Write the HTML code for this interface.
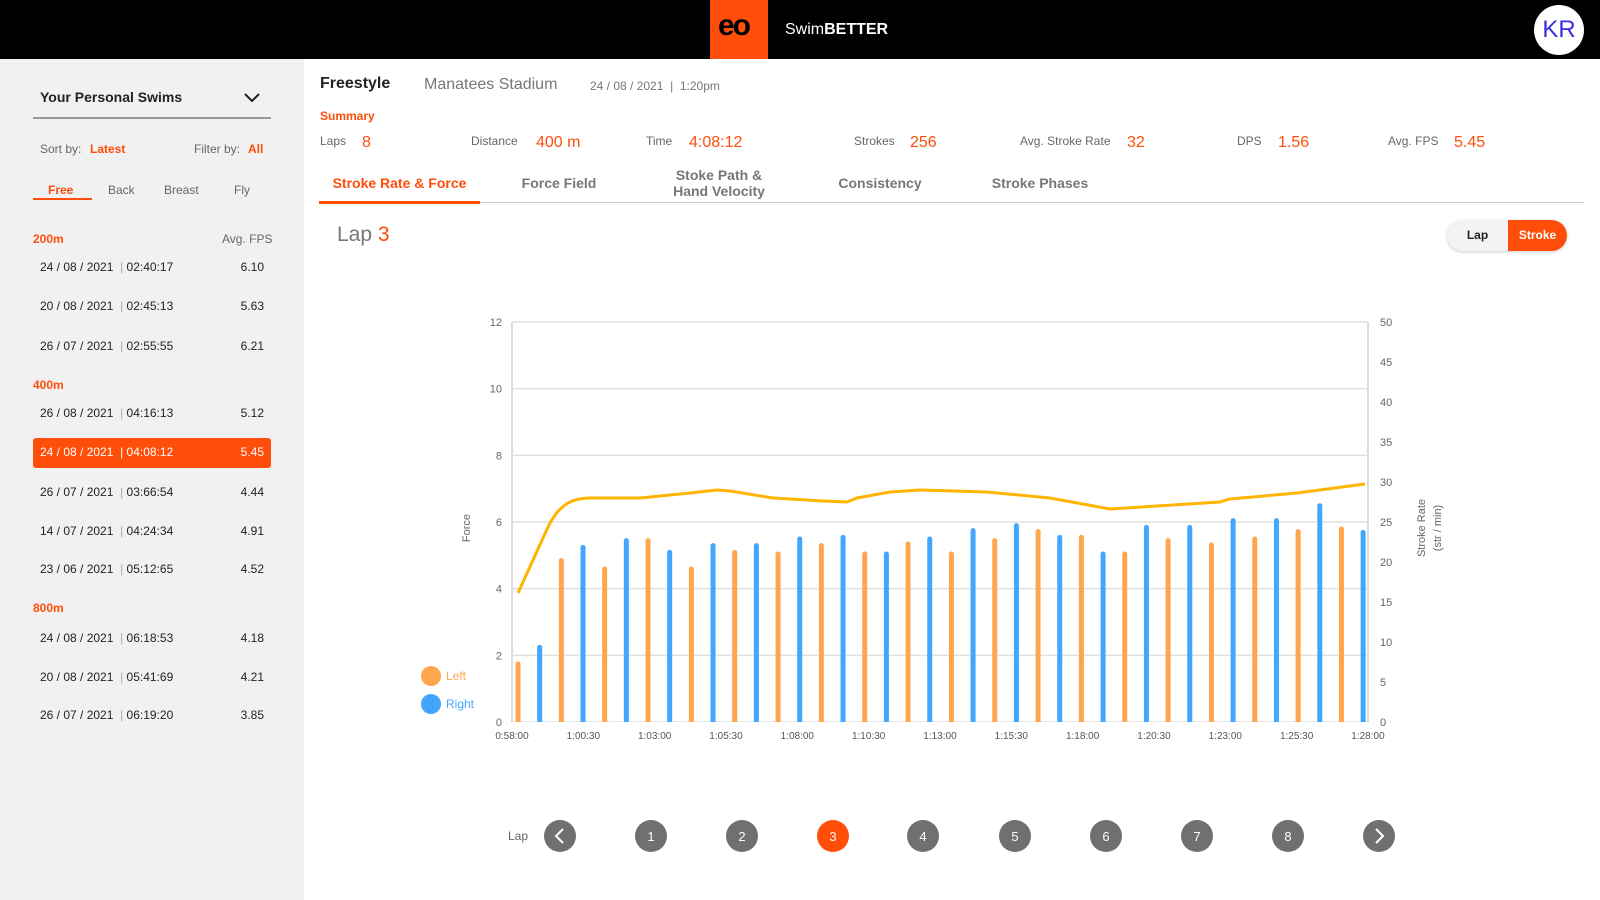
<!DOCTYPE html>
<html><head><meta charset="utf-8"><style>
*{margin:0;padding:0;box-sizing:border-box}
body{width:1600px;height:900px;position:relative;overflow:hidden;background:#fff;font-family:"Liberation Sans",sans-serif;color:#222}
.a{position:absolute;white-space:nowrap}
.hdr{left:0;top:0;width:1600px;height:59px;background:#000}
.side{left:0;top:59px;width:304px;height:841px;background:#f1f1f1}
.o{color:#ff4d0a}
.g{color:#777}
.row{font-size:12px;color:#222}
.lbl{font-size:12px;color:#666}
.val{font-size:16px;color:#ff4d0a}
.tab{font-size:14px;font-weight:bold;color:#777;text-align:center}
</style></head><body>
<div class="a hdr"></div>
<div class="a" style="left:710px;top:0;width:58px;height:59px;background:#ff4d0a"></div>
<div class="a" style="left:718px;top:9px;font-size:30px;font-weight:bold;color:#000;letter-spacing:-2px">eo</div>
<div class="a" style="left:785px;top:21px;font-size:16px;color:#fff">Swim<b>BETTER</b></div>
<div class="a" style="left:1534px;top:5px;width:50px;height:50px;border-radius:50%;background:#fff;color:#3d2de0;font-size:24px;text-align:center;line-height:50px">KR</div>

<div class="a side"></div>
<div class="a" style="left:40px;top:89px;font-size:14px;font-weight:bold">Your Personal Swims</div>
<svg class="a" style="left:243px;top:92px" width="18" height="12"><path d="M2 2 L9 9 L16 2" stroke="#222" stroke-width="2" fill="none"/></svg>
<div class="a" style="left:33px;top:117px;width:238px;height:2px;background:#999"></div>
<div class="a lbl" style="left:40px;top:142px">Sort by:</div>
<div class="a o" style="left:90px;top:142px;font-size:12px;font-weight:bold">Latest</div>
<div class="a lbl" style="left:194px;top:142px">Filter by:</div>
<div class="a o" style="left:248px;top:142px;font-size:12px;font-weight:bold">All</div>
<div class="a o" style="left:48px;top:183px;font-size:12px;font-weight:bold">Free</div>
<div class="a lbl" style="left:108px;top:183px">Back</div>
<div class="a lbl" style="left:164px;top:183px">Breast</div>
<div class="a lbl" style="left:234px;top:183px">Fly</div>
<div class="a" style="left:33px;top:198px;width:59px;height:2px;background:#ff4d0a"></div>

<div class="a o" style="left:33px;top:232px;font-size:12px;font-weight:bold">200m</div>
<div class="a lbl" style="left:222px;top:232px">Avg. FPS</div>
<div class="a" style="left:33px;top:438px;width:238px;height:30px;background:#ff4d0a;border-radius:3px"></div>
<div id="rows"></div>
<div class="a o" style="left:33px;top:378px;font-size:12px;font-weight:bold">400m</div>
<div class="a o" style="left:33px;top:601px;font-size:12px;font-weight:bold">800m</div>

<div class="a" style="left:320px;top:75px;font-size:16px;font-weight:bold">Freestyle</div>
<div class="a g" style="left:424px;top:76px;font-size:16px">Manatees Stadium</div>
<div class="a g" style="left:590px;top:79px;font-size:12px">24 / 08 / 2021 &nbsp;|&nbsp; 1:20pm</div>
<div class="a o" style="left:320px;top:109px;font-size:12px;font-weight:bold">Summary</div>
<div class="a lbl" style="left:320px;top:134px">Laps</div><div class="a val" style="left:362px;top:134px">8</div>
<div class="a lbl" style="left:471px;top:134px">Distance</div><div class="a val" style="left:536px;top:134px">400 m</div>
<div class="a lbl" style="left:646px;top:134px">Time</div><div class="a val" style="left:689px;top:134px">4:08:12</div>
<div class="a lbl" style="left:854px;top:134px">Strokes</div><div class="a val" style="left:910px;top:134px">256</div>
<div class="a lbl" style="left:1020px;top:134px">Avg. Stroke Rate</div><div class="a val" style="left:1127px;top:134px">32</div>
<div class="a lbl" style="left:1237px;top:134px">DPS</div><div class="a val" style="left:1278px;top:134px">1.56</div>
<div class="a lbl" style="left:1388px;top:134px">Avg. FPS</div><div class="a val" style="left:1454px;top:134px">5.45</div>

<div class="a" style="left:319px;top:202px;width:1265px;height:1px;background:#ccc"></div>
<div class="a" style="left:319px;top:201px;width:161px;height:3px;background:#ff4d0a"></div>
<div class="a tab o" style="left:319px;top:175px;width:161px;color:#ff4d0a">Stroke Rate &amp; Force</div>
<div class="a tab" style="left:489px;top:175px;width:140px">Force Field</div>
<div class="a tab" style="left:649px;top:167px;width:140px;line-height:16px">Stoke Path &amp;<br>Hand Velocity</div>
<div class="a tab" style="left:810px;top:175px;width:140px">Consistency</div>
<div class="a tab" style="left:970px;top:175px;width:140px">Stroke Phases</div>

<div class="a g" style="left:337px;top:223px;font-size:21px">Lap <span class="o">3</span></div>
<div class="a" style="left:1447px;top:220px;width:120px;height:31px;border-radius:16px;background:#f3f3f3;box-shadow:0 1px 3px rgba(0,0,0,.2);overflow:hidden">
<div class="a" style="left:0;top:0;width:61px;height:31px;text-align:center;line-height:31px;font-size:12px;font-weight:bold">Lap</div>
<div class="a" style="left:61px;top:0;width:59px;height:31px;background:#ff4d0a;color:#fff;text-align:center;line-height:31px;font-size:12px;font-weight:bold">Stroke</div></div>

<svg class="a" style="left:0;top:0" width="1600" height="900" id="ch" font-family="Liberation Sans, sans-serif"></svg>
<script>
var s='';
var rows=[[267,'24 / 08 / 2021','02:40:17','6.10'],[306,'20 / 08 / 2021','02:45:13','5.63'],[346,'26 / 07 / 2021','02:55:55','6.21'],[413,'26 / 08 / 2021','04:16:13','5.12'],[452,'24 / 08 / 2021','04:08:12','5.45',1],[492,'26 / 07 / 2021','03:66:54','4.44'],[531,'14 / 07 / 2021','04:24:34','4.91'],[569,'23 / 06 / 2021','05:12:65','4.52'],[638,'24 / 08 / 2021','06:18:53','4.18'],[677,'20 / 08 / 2021','05:41:69','4.21'],[715,'26 / 07 / 2021','06:19:20','3.85']];
var h='';
rows.forEach(function(r){var c=r[4]?'color:#fff;':'';
h+='<div class="a row" style="'+c+'left:40px;top:'+(r[0]-7)+'px">'+r[1]+' <span style="color:'+(r[4]?'#fff':'#aaa')+'">&nbsp;|&nbsp;</span>'+r[2]+'</div><div class="a row" style="'+c+'right:'+(1600-264)+'px;top:'+(r[0]-7)+'px">'+r[3]+'</div>';});
document.getElementById('rows').innerHTML=h;
var X0=512,X1=1368,Y0=722,U=33.33;
for(var i=0;i<=6;i++){var y=Y0-i*2*U;s+='<line x1="'+X0+'" x2="'+X1+'" y1="'+y+'" y2="'+y+'" stroke="#e0e0e0" stroke-width="1.5"/>';s+='<text x="502" y="'+(y+4)+'" font-size="11" fill="#666" text-anchor="end">'+(i*2)+'</text>';}
for(var i=0;i<=10;i++){var y=Y0-i*40;s+='<text x="1380" y="'+(y+4)+'" font-size="11" fill="#666">'+(i*5)+'</text>';}
s+='<line x1="'+X0+'" x2="'+X0+'" y1="322" y2="'+Y0+'" stroke="#ddd" stroke-width="2"/><line x1="'+X1+'" x2="'+X1+'" y1="322" y2="'+Y0+'" stroke="#ddd" stroke-width="2"/>';
var xl=['0:58:00','1:00:30','1:03:00','1:05:30','1:08:00','1:10:30','1:13:00','1:15:30','1:18:00','1:20:30','1:23:00','1:25:30','1:28:00'];
xl.forEach(function(t,i){s+='<text x="'+(X0+i*71.33)+'" y="739" font-size="10" fill="#555" text-anchor="middle">'+t+'</text>';});
var v=[1.8,2.3,4.9,5.3,4.65,5.5,5.5,5.15,4.65,5.35,5.15,5.35,5.1,5.55,5.35,5.6,5.1,5.1,5.4,5.55,5.1,5.8,5.5,5.95,5.77,5.6,5.6,5.1,5.1,5.9,5.5,5.9,5.37,6.1,5.55,6.1,5.77,6.55,5.85,5.75];
v.forEach(function(f,i){var x=518+i*21.67;var c=(i%2==0&&i<19)||(i>=19&&i%2==0)?'#ffa54d':'#42a5ff';
if(i>=19)c=(i%2==1)?'#42a5ff':'#ffa54d';
if(i==19)c='#42a5ff';
s+='<line x1="'+x+'" x2="'+x+'" y1="'+(Y0-f*U+2)+'" y2="'+Y0+'" stroke="'+c+'" stroke-width="5" stroke-linecap="round"/>';});
s+='<rect x="505" y="'+(Y0)+'" width="870" height="3" fill="#fff"/>';
s+='<path d="M518 593 L548 527 C560 502 575 498 590 498 L640 498 L690 493 L717 490 L730 491 L773 498 L823 501 L847 502 L857 498 L890 492 L920 490 L987 492 L1050 498 L1110 509 L1220 502 L1230 499 L1297 493 L1365 484" fill="none" stroke="#ffb400" stroke-width="3"/>';
s+='<text transform="translate(470,528) rotate(-90)" font-size="11" fill="#666" text-anchor="middle">Force</text>';
s+='<text transform="translate(1425,528) rotate(-90)" font-size="11" fill="#666" text-anchor="middle">Stroke Rate</text><text transform="translate(1441,528) rotate(-90)" font-size="11" fill="#666" text-anchor="middle">(str / min)</text>';
s+='<circle cx="431" cy="676" r="10" fill="#ffa54d"/><text x="446" y="680" font-size="12" fill="#ffa54d">Left</text><circle cx="431" cy="704" r="10" fill="#42a5ff"/><text x="446" y="708" font-size="12" fill="#42a5ff">Right</text>';
s+='<text x="508" y="840" font-size="12" fill="#666">Lap</text>';
var cx=[560,651,742,833,923,1015,1106,1197,1288,1379];
cx.forEach(function(x,i){var c=i==3?'#ff4d0a':'#707070';s+='<circle cx="'+x+'" cy="836" r="16" fill="'+c+'"/>';
if(i==0)s+='<path d="M'+(x+3)+' 829 L'+(x-4)+' 836 L'+(x+3)+' 843" stroke="#fff" stroke-width="2" fill="none"/>';
else if(i==9)s+='<path d="M'+(x-3)+' 829 L'+(x+4)+' 836 L'+(x-3)+' 843" stroke="#fff" stroke-width="2" fill="none"/>';
else s+='<text x="'+x+'" y="841" font-size="13" fill="#fff" text-anchor="middle">'+i+'</text>';});
document.getElementById('ch').innerHTML=s;
</script>
</body></html>
